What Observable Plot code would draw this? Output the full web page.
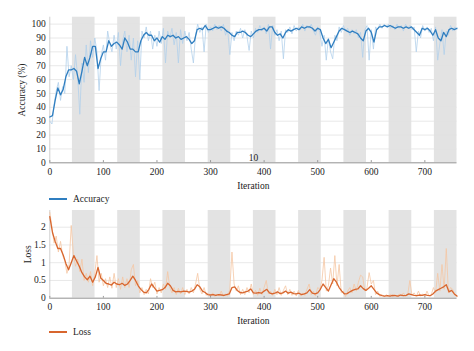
<!DOCTYPE html>
<html><head><meta charset="utf-8">
<script src="https://cdn.jsdelivr.net/npm/d3@7"></script>
<script src="https://cdn.jsdelivr.net/npm/@observablehq/plot@0.6"></script>
<style>
body{margin:0;background:#fff;}
#wrap{position:relative;width:474px;height:351px;font-family:"Liberation Serif",serif;overflow:hidden;}
.part{position:absolute;left:0;}
.leg{position:absolute;left:49px;height:12px;font-size:9.5px;color:#222;display:flex;align-items:center;}
.leg .sw{display:inline-block;width:18px;height:1.3px;margin-right:6px;}
</style></head><body>
<div id="wrap">
  <div id="top" class="part" style="top:0"></div>
  <div class="leg" style="top:193px"><span class="sw" style="background:#2f7ec0"></span>Accuracy</div>
  <div id="bot" class="part" style="top:205px"></div>
  <div class="leg" style="top:326px"><span class="sw" style="background:#d8662e"></span>Loss</div>
</div>
<script>
// Iteration axis ticks
const xTicks = [0, 100, 200, 300, 400, 500, 600, 700];
const accTicks = [0, 10, 20, 30, 40, 50, 60, 70, 80, 90, 100];
const lossTicks = [0, 0.5, 1, 1.5, 2];
// Shaded (alternate) epochs: start / end iteration
const bandStart = [42.2, 126.7, 211.1, 295.6, 380, 464.4, 548.9, 633.3, 717.8];
const bandEnd   = [84.4, 168.9, 253.3, 337.8, 422.2, 506.7, 591.1, 675.6, 760];
const strayLabel = ["10"];
const strayIter = [380];

// Accuracy (%), smoothed, every 5 iterations (0..760)
const accSmooth = [
  33,34,45,54,49,53,62,67,67,68,
  66,57,66,76,70,76,84,84,68,75,
  80,80,88,84,86,87,85,82,90,87,
  82,82,80,80,88,92,94,92,92,88,
  90,87,91,89,92,91,92,90,91,89,
  90,91,89,86,88,96,97,96,99,96,
  96,97,98,97,98,97,95,94,92,91,
  94,94,95,94,92,91,93,95,96,96,
  97,95,98,98,94,92,93,90,94,96,
  95,96,97,96,98,97,98,98,97,95,
  97,96,90,86,89,83,87,91,95,97,
  96,95,94,95,94,93,90,88,95,97,
  94,87,96,98,98,99,98,99,98,97,
  98,98,97,98,97,98,96,94,92,97,
  96,97,95,92,96,90,88,94,91,96,
  97,96,97];
// Accuracy (%), raw, every 4 iterations (0..760)
const accRaw = [
  30,28,42,52,58,45,55,50,84,62,
  70,60,78,62,35,72,58,85,65,88,
  76,90,80,52,78,85,74,95,86,80,
  92,82,94,70,88,95,80,92,74,90,
  62,88,60,95,90,98,88,95,82,92,
  84,95,86,97,72,95,90,97,85,94,
  72,96,86,95,88,94,82,72,92,100,
  94,98,80,100,94,98,95,100,96,99,
  95,100,92,96,78,94,88,95,92,97,
  90,96,91,81,95,90,97,94,99,95,
  98,93,100,82,99,92,96,88,95,75,
  96,94,98,93,99,95,98,96,100,95,
  99,97,100,95,92,98,94,84,92,74,
  90,80,75,92,88,98,94,99,95,97,
  92,96,93,96,90,94,76,96,99,74,
  96,82,98,96,100,97,100,98,100,97,
  99,96,100,97,99,95,100,97,99,96,
  98,80,95,90,99,95,98,94,97,88,
  98,74,86,96,78,95,92,99,95,98,
  96];

// Loss, smoothed, every 5 iterations (0..760)
const lossSmooth = [
  2.3,1.85,1.6,1.4,1.4,1.22,0.98,0.8,1.0,1.2,
  1.05,0.9,0.72,0.6,0.52,0.62,0.45,0.6,0.87,0.57,
  0.5,0.42,0.4,0.37,0.45,0.4,0.38,0.42,0.36,0.4,
  0.5,0.62,0.5,0.35,0.25,0.17,0.15,0.25,0.4,0.3,
  0.2,0.22,0.24,0.3,0.42,0.35,0.22,0.18,0.19,0.18,
  0.2,0.19,0.17,0.2,0.25,0.38,0.32,0.2,0.16,0.1,
  0.09,0.1,0.08,0.1,0.09,0.08,0.1,0.12,0.3,0.32,
  0.22,0.16,0.15,0.18,0.2,0.26,0.15,0.14,0.16,0.14,
  0.2,0.25,0.15,0.12,0.14,0.18,0.13,0.15,0.2,0.14,
  0.17,0.13,0.12,0.14,0.1,0.12,0.15,0.24,0.14,0.12,
  0.15,0.25,0.4,0.3,0.2,0.38,0.55,0.45,0.3,0.2,
  0.12,0.13,0.18,0.22,0.25,0.26,0.35,0.27,0.22,0.28,
  0.35,0.25,0.15,0.1,0.07,0.06,0.07,0.06,0.08,0.07,
  0.06,0.09,0.07,0.08,0.12,0.1,0.08,0.07,0.09,0.08,
  0.1,0.08,0.07,0.12,0.2,0.24,0.28,0.32,0.38,0.18,
  0.22,0.12,0.06];
// Loss, raw, every 4 iterations (0..760)
const lossRaw = [
  2.42,2.0,1.55,1.75,1.3,1.6,1.2,1.05,0.7,0.95,
  2.05,1.25,0.9,1.1,0.75,1.1,0.5,0.7,0.45,0.75,
  0.35,0.7,1.2,0.45,0.7,0.35,0.55,0.3,0.6,0.28,
  0.7,0.3,0.55,0.25,0.6,0.3,0.55,0.3,0.8,0.95,
  0.35,0.5,0.15,0.3,0.1,0.25,0.12,0.55,0.3,0.45,
  0.12,0.3,0.15,0.4,0.25,0.75,0.3,0.15,0.3,0.1,
  0.28,0.12,0.3,0.1,0.25,0.12,0.3,0.15,0.4,0.7,
  0.25,0.12,0.3,0.08,0.15,0.05,0.15,0.05,0.12,0.06,
  0.2,0.05,0.12,0.06,0.25,1.3,0.4,0.2,0.35,0.1,
  0.25,0.1,0.3,0.15,0.4,0.1,0.22,0.08,0.28,0.1,
  0.3,0.5,0.12,0.2,0.08,0.25,0.1,0.3,0.08,0.22,
  0.35,0.1,0.25,0.08,0.2,0.06,0.22,0.06,0.15,0.08,
  0.25,0.4,0.1,0.2,0.06,0.3,0.25,0.5,1.15,0.2,
  0.35,0.85,0.4,1.2,0.35,0.95,0.15,0.2,0.05,0.2,
  0.3,0.15,0.4,0.2,0.45,0.65,0.6,0.2,0.3,0.72,
  0.4,0.5,0.1,0.2,0.05,0.1,0.04,0.1,0.05,0.12,
  0.04,0.1,0.05,0.12,0.06,0.15,0.05,0.1,0.5,0.08,
  0.15,0.05,0.2,0.06,0.12,0.05,0.2,0.06,0.1,0.3,
  0.15,0.7,0.2,0.95,0.25,1.4,0.15,0.3,0.25,0.08,
  0.05];

const toSeries = (arr, step) => arr.map((v, i) => ({it: i * step, v}));
const bands = bandStart.map((s, i) => ({start: s, end: bandEnd[i]}));
const stray = strayLabel.map((t, i) => ({it: strayIter[i], t}));

const font = {fontFamily: "'Liberation Serif', serif", fontSize: "9.5px", color: "#222", background: "transparent", overflow: "visible"};

function panel({height, mTop, mBottom, yDomain, yTicks, yLabel, yLabelOffset, raw, rawStep, smooth, smoothStep, rawColor, lineColor, tickH, extra}) {
  return Plot.plot({
    width: 474, height,
    marginLeft: 49.3, marginRight: 17.5, marginTop: mTop, marginBottom: mBottom,
    style: font,
    x: {domain: [0, 760]},
    y: {domain: yDomain},
    marks: [
      Plot.rect(bands, {x1: "start", x2: "end", fill: "#e3e3e3"}),
      Plot.gridY(yTicks, {stroke: "#e2e2e2", strokeOpacity: 1, strokeWidth: 0.8}),
      Plot.ruleX([0], {stroke: "#cfcfcf"}),
      Plot.line(toSeries(raw, rawStep), {x: "it", y: "v", stroke: rawColor, strokeWidth: 0.8}),
      Plot.line(toSeries(smooth, smoothStep), {x: "it", y: "v", stroke: lineColor, strokeWidth: 1.3}),
      Plot.ruleY([0], {stroke: "#9a9a9a", strokeWidth: 1}),
      Plot.ruleX(xTicks, {y1: 0, y2: tickH, stroke: "#9a9a9a"}),
      Plot.axisY(yTicks, {tickSize: 0, tickPadding: 4, tickFormat: d => String(d), label: yLabel, labelAnchor: "center", labelOffset: yLabelOffset, labelArrow: "none"}),
      Plot.axisX(xTicks, {tickSize: 0, tickPadding: 5, tickFormat: d => String(d), label: "Iteration", labelAnchor: "center", labelOffset: 26, labelArrow: "none"}),
      ...(extra || [])
    ]
  });
}

document.getElementById("top").append(panel({
  height: 192, mTop: 16.7, mBottom: 29.7, yDomain: [0, 105], yTicks: accTicks,
  yLabel: "Accuracy (%)", yLabelOffset: 32,
  raw: accRaw, rawStep: 4, smooth: accSmooth, smoothStep: 5,
  rawColor: "#b3d1eb", lineColor: "#2f7ec0", tickH: 1.6,
  extra: [Plot.text(stray, {x: "it", y: () => 0, text: "t", dy: -4.5})]
}));

document.getElementById("bot").append(panel({
  height: 122, mTop: 5, mBottom: 29.3, yDomain: [0, 2.47], yTicks: lossTicks,
  yLabel: "Loss", yLabelOffset: 26,
  raw: lossRaw, rawStep: 4, smooth: lossSmooth, smoothStep: 5,
  rawColor: "#f5c6a3", lineColor: "#d8662e", tickH: 0.05
}));
</script>
</body></html>
